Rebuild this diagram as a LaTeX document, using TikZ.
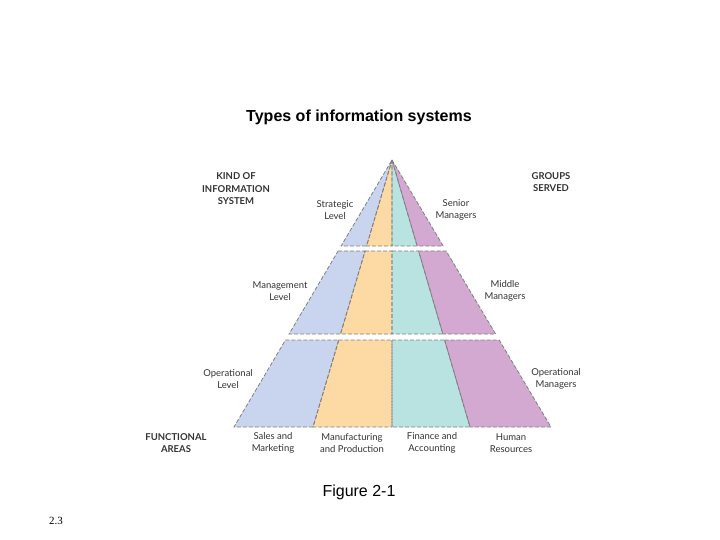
\documentclass[tikz,border=0pt]{standalone}
\usepackage{fontspec}
\setmainfont{Liberation Serif}
\newfontfamily\arialf{Liberation Sans}
\newfontfamily\labf{Lato}
\usetikzlibrary{calc}
\definecolor{cblue}{HTML}{C9D5EE}
\definecolor{corange}{HTML}{FDD9A3}
\definecolor{cteal}{HTML}{B9E3E0}
\definecolor{cpurple}{HTML}{D3A9D2}
\definecolor{edge}{HTML}{808080}
\tikzset{
  lab/.style={font=\labf\fontsize{9.5}{12.5}\selectfont, align=center, text=black!80},
  hdr/.style={font=\labf\bfseries\fontsize{9.5}{12.5}\selectfont, align=center, text=black!80},
  cell/.style={draw=edge, dashed, dash pattern=on 4pt off 2pt, line width=0.8pt}
}
\begin{document}
\begin{tikzpicture}[x=1pt,y=-1pt]
\useasboundingbox (0,0) rectangle (720,540);
\coordinate (apex) at (392,160);
\coordinate (B0) at (234,427);
\coordinate (B1) at (313,427);
\coordinate (B2) at (392,427);
\coordinate (B3) at (470,427);
\coordinate (B4) at (551,427);
\foreach \ta/\tb in {0/0.3221, 0.3408/0.6517, 0.6742/1}{
  \foreach \l/\r/\c in {B0/B1/cblue, B1/B2/corange, B2/B3/cteal, B3/B4/cpurple}{
    \fill[\c] ($(apex)!\ta!(\l)$) -- ($(apex)!\ta!(\r)$) -- ($(apex)!\tb!(\r)$) -- ($(apex)!\tb!(\l)$) -- cycle;
  }
  \foreach \l/\r in {B0/B1, B1/B2, B2/B3, B3/B4}{
    \draw[cell] ($(apex)!\ta!(\l)$) -- ($(apex)!\ta!(\r)$) -- ($(apex)!\tb!(\r)$) -- ($(apex)!\tb!(\l)$) -- cycle;
  }
}
\node[font=\arialf\bfseries\fontsize{16}{19}\selectfont] (title) at (359,117) {Types of information systems};
\node[hdr] (kind) at (236,189) {KIND OF\\INFORMATION\\SYSTEM};
\node[hdr] (groups) at (551,182) {GROUPS\\SERVED};
\node[lab] (strat) at (335,210) {Strategic\\Level};
\node[lab] (senior) at (456,210) {Senior\\Managers};
\node[lab] (mgmt) at (280,291) {Management\\Level};
\node[lab] (middle) at (505,291) {Middle\\Managers};
\node[lab] (oper) at (228,379) {Operational\\Level};
\node[lab] (operm) at (556,379) {Operational\\Managers};
\node[hdr] (func) at (176,443) {FUNCTIONAL\\AREAS};
\node[lab] (sales) at (273,443) {Sales and\\Marketing};
\node[lab] (manu) at (352,443) {Manufacturing\\and Production};
\node[lab] (fin) at (432,443) {Finance and\\Accounting};
\node[lab] (hr) at (511,443) {Human\\Resources};
\node[font=\arialf\fontsize{16}{19}\selectfont] (fig) at (359,492) {Figure 2-1};
\node[font=\fontsize{11}{13}\selectfont] (num) at (56,521) {2.3};
\end{tikzpicture}
\end{document}
